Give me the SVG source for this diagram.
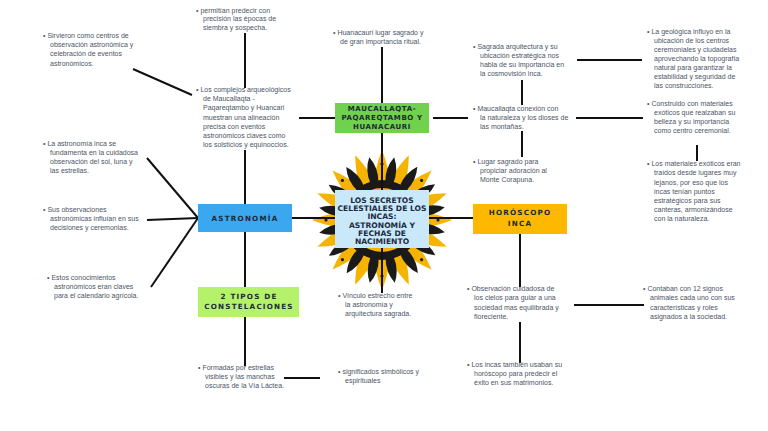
<svg xmlns="http://www.w3.org/2000/svg" width="768" height="431" viewBox="0 0 768 431">
<style>
.t{font-family:"Liberation Sans",Arial,sans-serif;font-size:7px;fill:#4a5566}
.b{font-family:"DejaVu Sans",sans-serif;font-weight:bold;font-size:7.2px;letter-spacing:1.2px;fill:#1d2a33;text-anchor:middle}
.m{letter-spacing:0.6px;font-size:7px}
.c{font-family:"DejaVu Sans",sans-serif;font-weight:bold;font-size:7.6px;fill:#1d2a40;text-anchor:middle}
.l{stroke:#111;stroke-width:2;fill:none}
</style>
<defs>
<path id="ray" d="M0 -70 Q8 -50 6 -40 L-6 -40 Q-8 -50 0 -70z" fill="#f5b400"/>
<path id="fl" d="M0 -64 Q7 -52 4 -38 Q0 -32 -4 -38 Q-7 -52 0 -64z" fill="#1a1a1a"/>
</defs>
<rect width="768" height="431" fill="#fff"/>
<g id="sun" transform="translate(382 220)">
<circle r="48" fill="#f5b400"/>
<circle r="40" fill="#1a1a1a"/>
<circle r="32" fill="#f5b400"/>
<use href="#ray" transform="rotate(0)"/><use href="#ray" transform="rotate(22.5)"/><use href="#ray" transform="rotate(45)"/><use href="#ray" transform="rotate(67.5)"/>
<use href="#ray" transform="rotate(90)"/><use href="#ray" transform="rotate(112.5)"/><use href="#ray" transform="rotate(135)"/><use href="#ray" transform="rotate(157.5)"/>
<use href="#ray" transform="rotate(180)"/><use href="#ray" transform="rotate(202.5)"/><use href="#ray" transform="rotate(225)"/><use href="#ray" transform="rotate(247.5)"/>
<use href="#ray" transform="rotate(270)"/><use href="#ray" transform="rotate(292.5)"/><use href="#ray" transform="rotate(315)"/><use href="#ray" transform="rotate(337.5)"/>
<use href="#fl" transform="rotate(11)"/><use href="#fl" transform="rotate(33.5)"/><use href="#fl" transform="rotate(56)"/><use href="#fl" transform="rotate(78.5)"/>
<use href="#fl" transform="rotate(101)"/><use href="#fl" transform="rotate(123.5)"/><use href="#fl" transform="rotate(146)"/><use href="#fl" transform="rotate(168.5)"/>
<use href="#fl" transform="rotate(191)"/><use href="#fl" transform="rotate(213.5)"/><use href="#fl" transform="rotate(236)"/><use href="#fl" transform="rotate(258.5)"/>
<use href="#fl" transform="rotate(281)"/><use href="#fl" transform="rotate(303.5)"/><use href="#fl" transform="rotate(326)"/><use href="#fl" transform="rotate(348.5)"/>
<g fill="#1a1a1a"><circle cy="-56" r="1.6" transform="rotate(0)"/><circle cy="-56" r="1.6" transform="rotate(45)"/><circle cy="-56" r="1.6" transform="rotate(90)"/><circle cy="-56" r="1.6" transform="rotate(135)"/><circle cy="-56" r="1.6" transform="rotate(180)"/><circle cy="-56" r="1.6" transform="rotate(225)"/><circle cy="-56" r="1.6" transform="rotate(270)"/><circle cy="-56" r="1.6" transform="rotate(315)"/></g>
</g>
<g id="connectors" class="l">
<line x1="245" y1="150" x2="245" y2="204"/>
<line x1="245" y1="232" x2="245" y2="287"/>
<line x1="245" y1="317" x2="245" y2="366"/>
<line x1="198" y1="218" x2="147" y2="158"/>
<line x1="198" y1="218" x2="147" y2="220"/>
<line x1="198" y1="218" x2="151" y2="287"/>
<line x1="292" y1="218" x2="335" y2="218"/>
<line x1="133" y1="69" x2="192" y2="95"/>
<line x1="245" y1="33" x2="245" y2="88"/>
<line x1="299" y1="118" x2="335" y2="118"/>
<line x1="382" y1="47" x2="382" y2="103"/>
<line x1="382" y1="133" x2="382" y2="190"/>
<line x1="433" y1="118" x2="468" y2="118"/>
<line x1="522" y1="80" x2="522" y2="105"/>
<line x1="522" y1="131" x2="522" y2="157"/>
<line x1="577" y1="60" x2="642" y2="60"/>
<line x1="576" y1="118" x2="643" y2="118"/>
<line x1="697" y1="145" x2="697" y2="161"/>
<line x1="382" y1="248" x2="382" y2="293"/>
<line x1="429" y1="218" x2="473" y2="218"/>
<line x1="520" y1="234" x2="520" y2="287"/>
<line x1="520" y1="322" x2="520" y2="363"/>
<line x1="574" y1="305" x2="644" y2="305"/>
<line x1="284" y1="378" x2="320" y2="378"/>
</g>
<g id="center"><rect x="335" y="190" width="94" height="58" fill="#c9e9fa"/>
<text class="c" x="382" y="203">LOS SECRETOS</text><text class="c" x="382" y="211">CELESTIALES DE LOS</text><text class="c" x="382" y="219">INCAS:</text><text class="c" x="382" y="228">ASTRONOMÍA Y</text><text class="c" x="382" y="236">FECHAS DE</text><text class="c" x="382" y="244">NACIMIENTO</text></g>
<g id="astronomia"><rect x="198" y="204" width="94" height="28" fill="#3aa7ef"/><text class="b" x="245" y="221">ASTRONOMÍA</text></g>
<g id="maucallaqta"><rect x="335" y="103" width="94" height="30" fill="#6fd14e"/><text class="b m" x="382" y="111">MAUCALLAQTA-</text><text class="b m" x="382" y="120">PAQAREQTAMBO Y</text><text class="b m" x="382" y="129">HUANACAURI</text></g>
<g id="constelaciones"><rect x="198" y="287" width="101" height="30" fill="#b5f26b"/><text class="b" x="249" y="299">2 TIPOS DE</text><text class="b" x="249" y="309">CONSTELACIONES</text></g>
<g id="horoscopo"><rect x="473" y="204" width="94" height="30" fill="#ffb800"/><text class="b" x="520" y="215">HORÓSCOPO</text><text class="b" x="520" y="226">INCA</text></g>
<g id="texts" class="t">
<text x="196" y="13">• permitían predecir con</text><text x="203" y="21">precisión  las épocas de</text><text x="203" y="30">siembra y sospecha.</text>
<text x="43" y="38">• Sirvieron como centros de</text><text x="50" y="47">observación astronómica y</text><text x="50" y="56">celebración de eventos</text><text x="50" y="66">astronómicos.</text>
<text x="333" y="35">• Huanacauri lugar sagrado y</text><text x="340" y="44">de gran importancia ritual.</text>
<text x="196" y="92">• Los complejos arqueológicos</text><text x="203" y="101">de Maucallaqta -</text><text x="203" y="110">Paqareqtambo y Huancari</text><text x="203" y="120">muestran una alineación</text><text x="203" y="129">precisa con eventos</text><text x="203" y="138">astronómicos claves como</text><text x="203" y="147">los solsticios y equinoccios.</text>
<text x="43" y="146">•  La astronomía inca se</text><text x="50" y="155">fundamenta en la cuidadosa</text><text x="50" y="164">observación del sol, luna y</text><text x="50" y="173">las estrellas.</text>
<text x="43" y="212">• Sus observaciones</text><text x="50" y="221">astronómicas influían en sus</text><text x="50" y="230">decisiones y ceremonias.</text>
<text x="47" y="280">• Estos conocimientos</text><text x="54" y="289">astronómicos eran claves</text><text x="54" y="298">para el calendario agrícola.</text>
<text x="473" y="49">• Sagrada arquitectura y su</text><text x="480" y="58">ubicación estratégica nos</text><text x="480" y="67">habla de su importancia en</text><text x="480" y="76">la cosmovisión inca.</text>
<text x="473" y="111">• Maucallaqta conexión con</text><text x="480" y="120">la naturaleza y los dioses de</text><text x="480" y="129">las montañas.</text>
<text x="473" y="164">• Lugar sagrado para</text><text x="480" y="173">propiciar adoración al</text><text x="480" y="182">Monte Corapuna.</text>
<text x="647" y="34">• La geológica influyo en la</text><text x="654" y="43">ubicación de los centros</text><text x="654" y="52">ceremoniales y ciudadelas</text><text x="654" y="61">aprovechando la topografía</text><text x="654" y="70">natural para garantizar la</text><text x="654" y="79">estabilidad y seguridad de</text><text x="654" y="88">las construcciones.</text>
<text x="647" y="106">• Construido con materiales</text><text x="654" y="115">exóticos que realzaban su</text><text x="654" y="124">belleza y su importancia</text><text x="654" y="133">como centro ceremonial.</text>
<text x="647" y="166">• Los materiales exóticos eran</text><text x="654" y="175">traídos desde lugares muy</text><text x="654" y="185">lejanos, por eso que los</text><text x="654" y="194">incas tenían puntos</text><text x="654" y="203">estratégicos para sus</text><text x="654" y="212">canteras, armonizándose</text><text x="654" y="221">con la naturaleza.</text>
<text x="338" y="298">• Vínculo estrecho entre</text><text x="345" y="307">la astronomía y</text><text x="345" y="316">arquitectura sagrada.</text>
<text x="467" y="291">• Observación cuidadosa de</text><text x="474" y="300">los cielos para guiar a una</text><text x="474" y="310">sociedad mas equilibrada y</text><text x="474" y="319">floreciente.</text>
<text x="643" y="291">• Contaban con 12 signos</text><text x="650" y="300">animales cada uno con sus</text><text x="650" y="310">características y roles</text><text x="650" y="319">asignados a la sociedad.</text>
<text x="198" y="370">• Formadas por estrellas</text><text x="205" y="379">visibles y las manchas</text><text x="205" y="388">oscuras de la Vía Láctea.</text>
<text x="338" y="374">• significados simbólicos y</text><text x="345" y="383">espirituales</text>
<text x="467" y="367">• Los incas también usaban su</text><text x="474" y="376">horóscopo para predecir el</text><text x="474" y="385">éxito en sus matrimonios.</text>
</g>
</svg>
